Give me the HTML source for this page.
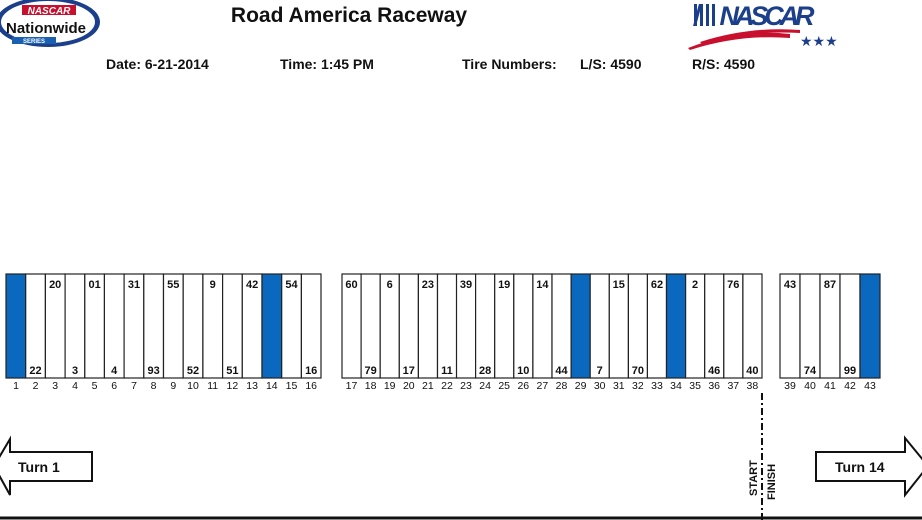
<!DOCTYPE html>
<html><head><meta charset="utf-8"><style>
html,body{margin:0;padding:0;background:#fff;}
svg{display:block;font-family:"Liberation Sans",Arial,sans-serif;}
.b{fill:#fff;stroke:#222;stroke-width:1.2}
.bl{fill:#0a68bf;stroke:#222;stroke-width:1.2}
.n{font-weight:bold;font-size:11px;fill:#111;text-anchor:middle}
.l{font-size:10.5px;fill:#111;text-anchor:middle}
.h{font-weight:bold;font-size:14px;fill:#111}
</style></head><body>
<svg width="922" height="520" viewBox="0 0 922 520">
<!-- left logo -->
<ellipse cx="48" cy="22" rx="52" ry="25" fill="#1b3f8a"/>
<ellipse cx="48" cy="22" rx="47" ry="21" fill="#fff"/>
<rect x="22" y="5" width="54" height="10" fill="#c8102e"/>
<text x="49" y="14" font-size="10" font-weight="bold" font-style="italic" fill="#fff" text-anchor="middle">NASCAR</text>
<text x="6" y="33" font-size="15" font-weight="bold" fill="#111">Nationwide</text>
<rect x="12" y="37" width="44" height="7" fill="#1b5fb0"/>
<text x="34" y="43" font-size="6" font-weight="bold" fill="#fff" text-anchor="middle">SERIES</text>
<!-- right logo -->
<g fill="#1b3f8a">
<rect x="700" y="4" width="3" height="22" transform="skewX(-15)"/>
</g>
<text x="767" y="25" font-size="27" font-weight="bold" font-style="italic" fill="#1b3f8a" text-anchor="middle" textLength="95">NASCAR</text>
<g fill="#1b3f8a"><rect x="694" y="4" width="3" height="22"/><rect x="700" y="4" width="3" height="22"/><rect x="706" y="4" width="3" height="22"/><rect x="712" y="4" width="3" height="22"/></g>
<path d="M688 48 Q740 28 790 34 L790 38 Q740 34 690 50Z" fill="#c8102e"/>
<path d="M700 42 Q750 26 800 30 L800 33 Q750 30 702 44Z" fill="#c8102e"/>
<text x="800" y="46" font-size="14" fill="#1b3f8a">★★★</text>
<!-- header -->
<text x="349" y="22" font-size="21" font-weight="bold" fill="#111" text-anchor="middle">Road America Raceway</text>
<text x="106" y="69" class="h">Date:  6-21-2014</text>
<text x="280" y="69" class="h">Time:  1:45 PM</text>
<text x="462" y="69" class="h">Tire Numbers:</text>
<text x="580" y="69" class="h">L/S:  4590</text>
<text x="692" y="69" class="h">R/S:  4590</text>
<!-- group 1 -->
<g>
<rect class="bl" x="6" y="274" width="19.7" height="104"/>
<rect class="b" x="25.7" y="274" width="19.7" height="104"/>
<rect class="b" x="45.4" y="274" width="19.7" height="104"/>
<rect class="b" x="65.1" y="274" width="19.7" height="104"/>
<rect class="b" x="84.8" y="274" width="19.7" height="104"/>
<rect class="b" x="104.4" y="274" width="19.7" height="104"/>
<rect class="b" x="124.1" y="274" width="19.7" height="104"/>
<rect class="b" x="143.8" y="274" width="19.7" height="104"/>
<rect class="b" x="163.5" y="274" width="19.7" height="104"/>
<rect class="b" x="183.2" y="274" width="19.7" height="104"/>
<rect class="b" x="202.9" y="274" width="19.7" height="104"/>
<rect class="b" x="222.6" y="274" width="19.7" height="104"/>
<rect class="b" x="242.3" y="274" width="19.7" height="104"/>
<rect class="bl" x="262" y="274" width="19.7" height="104"/>
<rect class="b" x="281.7" y="274" width="19.7" height="104"/>
<rect class="b" x="301.4" y="274" width="19.6" height="104"/>
<text class="n" x="35.5" y="374">22</text>
<text class="n" x="55.2" y="288">20</text>
<text class="n" x="75" y="374">3</text>
<text class="n" x="94.6" y="288">01</text>
<text class="n" x="114.2" y="374">4</text>
<text class="n" x="134" y="288">31</text>
<text class="n" x="153.6" y="374">93</text>
<text class="n" x="173.3" y="288">55</text>
<text class="n" x="193" y="374">52</text>
<text class="n" x="212.7" y="288">9</text>
<text class="n" x="232.4" y="374">51</text>
<text class="n" x="252.1" y="288">42</text>
<text class="n" x="291.5" y="288">54</text>
<text class="n" x="311.2" y="374">16</text>
<text class="l" x="16" y="389">1</text><text class="l" x="35.5" y="389">2</text><text class="l" x="55.2" y="389">3</text><text class="l" x="75" y="389">4</text><text class="l" x="94.6" y="389">5</text><text class="l" x="114.2" y="389">6</text><text class="l" x="134" y="389">7</text><text class="l" x="153.6" y="389">8</text><text class="l" x="173.3" y="389">9</text><text class="l" x="193" y="389">10</text><text class="l" x="212.7" y="389">11</text><text class="l" x="232.4" y="389">12</text><text class="l" x="252.1" y="389">13</text><text class="l" x="271.8" y="389">14</text><text class="l" x="291.5" y="389">15</text><text class="l" x="311.2" y="389">16</text>
</g>
<!-- group 2 -->
<g>
<rect class="b" x="342" y="274" width="19.1" height="104"/>
<rect class="b" x="361.1" y="274" width="19.1" height="104"/>
<rect class="b" x="380.2" y="274" width="19.1" height="104"/>
<rect class="b" x="399.3" y="274" width="19.1" height="104"/>
<rect class="b" x="418.4" y="274" width="19.1" height="104"/>
<rect class="b" x="437.5" y="274" width="19.1" height="104"/>
<rect class="b" x="456.5" y="274" width="19.1" height="104"/>
<rect class="b" x="475.6" y="274" width="19.1" height="104"/>
<rect class="b" x="494.7" y="274" width="19.1" height="104"/>
<rect class="b" x="513.8" y="274" width="19.1" height="104"/>
<rect class="b" x="532.9" y="274" width="19.1" height="104"/>
<rect class="b" x="552" y="274" width="19.1" height="104"/>
<rect class="bl" x="571.1" y="274" width="19.1" height="104"/>
<rect class="b" x="590.2" y="274" width="19.1" height="104"/>
<rect class="b" x="609.3" y="274" width="19.1" height="104"/>
<rect class="b" x="628.4" y="274" width="19.1" height="104"/>
<rect class="b" x="647.4" y="274" width="19.1" height="104"/>
<rect class="bl" x="666.5" y="274" width="19.1" height="104"/>
<rect class="b" x="685.6" y="274" width="19.1" height="104"/>
<rect class="b" x="704.7" y="274" width="19.1" height="104"/>
<rect class="b" x="723.8" y="274" width="19.1" height="104"/>
<rect class="b" x="742.9" y="274" width="19.1" height="104"/>
<text class="n" x="351.5" y="288">60</text>
<text class="n" x="370.6" y="374">79</text>
<text class="n" x="389.7" y="288">6</text>
<text class="n" x="408.8" y="374">17</text>
<text class="n" x="427.9" y="288">23</text>
<text class="n" x="447" y="374">11</text>
<text class="n" x="466" y="288">39</text>
<text class="n" x="485.1" y="374">28</text>
<text class="n" x="504.2" y="288">19</text>
<text class="n" x="523.3" y="374">10</text>
<text class="n" x="542.4" y="288">14</text>
<text class="n" x="561.5" y="374">44</text>
<text class="n" x="599.7" y="374">7</text>
<text class="n" x="618.8" y="288">15</text>
<text class="n" x="637.9" y="374">70</text>
<text class="n" x="657" y="288">62</text>
<text class="n" x="695.1" y="288">2</text>
<text class="n" x="714.2" y="374">46</text>
<text class="n" x="733.3" y="288">76</text>
<text class="n" x="752.4" y="374">40</text>
<text class="l" x="351.5" y="389">17</text><text class="l" x="370.6" y="389">18</text><text class="l" x="389.7" y="389">19</text><text class="l" x="408.8" y="389">20</text><text class="l" x="427.9" y="389">21</text><text class="l" x="447" y="389">22</text><text class="l" x="466" y="389">23</text><text class="l" x="485.1" y="389">24</text><text class="l" x="504.2" y="389">25</text><text class="l" x="523.3" y="389">26</text><text class="l" x="542.4" y="389">27</text><text class="l" x="561.5" y="389">28</text><text class="l" x="580.6" y="389">29</text><text class="l" x="599.7" y="389">30</text><text class="l" x="618.8" y="389">31</text><text class="l" x="637.9" y="389">32</text><text class="l" x="657" y="389">33</text><text class="l" x="676" y="389">34</text><text class="l" x="695.1" y="389">35</text><text class="l" x="714.2" y="389">36</text><text class="l" x="733.3" y="389">37</text><text class="l" x="752.4" y="389">38</text>
</g>
<!-- group 3 -->
<g>
<rect class="b" x="780" y="274" width="20" height="104"/>
<rect class="b" x="800" y="274" width="20" height="104"/>
<rect class="b" x="820" y="274" width="20" height="104"/>
<rect class="b" x="840" y="274" width="20" height="104"/>
<rect class="bl" x="860" y="274" width="20" height="104"/>
<text class="n" x="790" y="288">43</text>
<text class="n" x="810" y="374">74</text>
<text class="n" x="830" y="288">87</text>
<text class="n" x="850" y="374">99</text>
<text class="l" x="790" y="389">39</text><text class="l" x="810" y="389">40</text><text class="l" x="830" y="389">41</text><text class="l" x="850" y="389">42</text><text class="l" x="870" y="389">43</text>
</g>
<!-- start/finish -->
<line x1="762" y1="393" x2="762" y2="520" stroke="#111" stroke-width="2" stroke-dasharray="7,3,2,3"/>
<text transform="translate(757,496) rotate(-90)" font-size="11" font-weight="bold" fill="#111">START</text>
<text transform="translate(775,500) rotate(-90)" font-size="11" font-weight="bold" fill="#111">FINISH</text>
<!-- arrows -->
<path d="M-6 466 L10 439 L10 452 L92 452 L92 481 L10 481 L10 495 Z" fill="#fff" stroke="#111" stroke-width="2"/>
<text x="18" y="472" font-size="14" font-weight="bold" fill="#111">Turn 1</text>
<path d="M816 452 L905 452 L905 438 L928 466 L905 495 L905 481 L816 481 Z" fill="#fff" stroke="#111" stroke-width="2"/>
<text x="835" y="472" font-size="14" font-weight="bold" fill="#111">Turn 14</text>
<line x1="0" y1="518" x2="922" y2="518" stroke="#111" stroke-width="3"/>
</svg>
</body></html>
